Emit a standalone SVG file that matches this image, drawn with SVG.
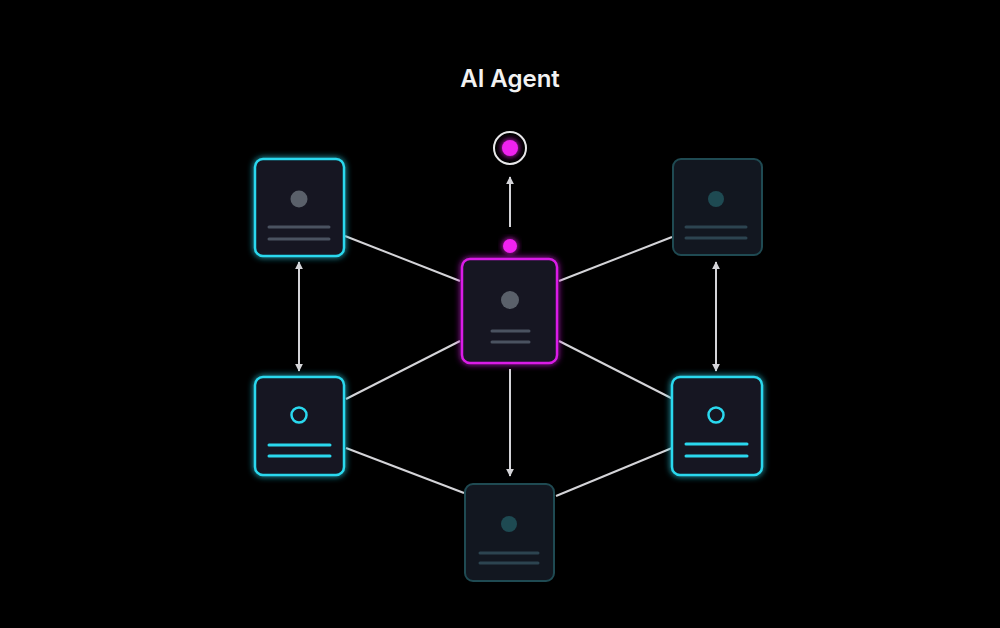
<svg xmlns="http://www.w3.org/2000/svg" width="1000" height="628" viewBox="0 0 1000 628">
<defs>
<style>
.bg{fill:#000}
.title{font-family:"Inter","Liberation Sans",sans-serif;font-size:24px;font-weight:600;fill:#f2f2f2}
.box{fill:#121720;stroke-width:2.5}
.cyan{stroke:#2ad8ee}
.mag{stroke:#d91fe6}
.dim{stroke:#1f4a52;stroke-width:2}
.ln{stroke:#d4d4d8;stroke-width:2;fill:none}
.bar{stroke-width:3;stroke-linecap:round}
.grey{stroke:#4a5260}
.dimbar{stroke:#2c4450}
.cybar{stroke:#2ad8ee}
</style>
<filter id="glow" x="-30%" y="-30%" width="160%" height="160%">
<feGaussianBlur stdDeviation="3" result="b"/>
<feMerge><feMergeNode in="b"/><feMergeNode in="SourceGraphic"/></feMerge>
</filter>
<marker id="ah" viewBox="0 0 10 10" refX="9" refY="5" markerWidth="4" markerHeight="4" orient="auto-start-reverse">
<path d="M0,0 L10,5 L0,10 z" fill="#d4d4d8"/>
</marker>
</defs>
<rect class="bg" width="1000" height="628"/>
<text class="title" x="510" y="87" text-anchor="middle">AI Agent</text>

<g id="connectors">
<line class="ln" x1="345" y1="236" x2="460" y2="281"/>
<line class="ln" x1="672" y1="237" x2="559" y2="281"/>
<line class="ln" x1="460" y1="341" x2="346" y2="399"/>
<line class="ln" x1="559" y1="341" x2="673" y2="399"/>
<line class="ln" x1="346" y1="448" x2="464" y2="493"/>
<line class="ln" x1="672" y1="448" x2="556" y2="496"/>
<line class="ln" x1="299" y1="262" x2="299" y2="371" marker-start="url(#ah)" marker-end="url(#ah)"/>
<line class="ln" x1="716" y1="262" x2="716" y2="371" marker-start="url(#ah)" marker-end="url(#ah)"/>
<line class="ln" x1="510" y1="369" x2="510" y2="476" marker-end="url(#ah)"/>
<line class="ln" x1="510" y1="227" x2="510" y2="177" marker-end="url(#ah)"/>
</g>

<g id="node-top">
<circle cx="510" cy="148" r="16" fill="none" stroke="#e8e8ea" stroke-width="2"/>
<circle cx="510" cy="148" r="8" fill="#f020f0" filter="url(#glow)"/>
</g>

<g id="node-center">
<circle cx="510" cy="246" r="7" fill="#f020f0" filter="url(#glow)"/>
<rect class="box mag" x="462" y="259" width="95" height="104" rx="8" filter="url(#glow)"/>
<circle cx="510" cy="300" r="9" fill="#5a606a"/>
<line class="bar grey" x1="492" y1="331" x2="529" y2="331"/>
<line class="bar grey" x1="492" y1="342" x2="529" y2="342"/>
</g>

<g id="node-tl">
<rect class="box cyan" x="255" y="159" width="89" height="97" rx="8" filter="url(#glow)"/>
<circle cx="299" cy="199" r="8.5" fill="#5a606a"/>
<line class="bar grey" x1="269" y1="227" x2="329" y2="227"/>
<line class="bar grey" x1="269" y1="239" x2="329" y2="239"/>
</g>

<g id="node-tr">
<rect class="box dim" x="673" y="159" width="89" height="96" rx="8"/>
<circle cx="716" cy="199" r="8" fill="#1e4a52"/>
<line class="bar dimbar" x1="686" y1="227" x2="746" y2="227"/>
<line class="bar dimbar" x1="686" y1="238" x2="746" y2="238"/>
</g>

<g id="node-ml">
<rect class="box cyan" x="255" y="377" width="89" height="98" rx="8" filter="url(#glow)"/>
<circle cx="299" cy="415" r="7.5" fill="none" stroke="#2ad8ee" stroke-width="2.5"/>
<line class="bar cybar" x1="269" y1="445" x2="330" y2="445"/>
<line class="bar cybar" x1="269" y1="456" x2="330" y2="456"/>
</g>

<g id="node-mr">
<rect class="box cyan" x="672" y="377" width="90" height="98" rx="8" filter="url(#glow)"/>
<circle cx="716" cy="415" r="7.5" fill="none" stroke="#2ad8ee" stroke-width="2.5"/>
<line class="bar cybar" x1="686" y1="444" x2="747" y2="444"/>
<line class="bar cybar" x1="686" y1="456" x2="747" y2="456"/>
</g>

<g id="node-bottom">
<rect class="box dim" x="465" y="484" width="89" height="97" rx="8"/>
<circle cx="509" cy="524" r="8" fill="#1e4a52"/>
<line class="bar dimbar" x1="480" y1="553" x2="538" y2="553"/>
<line class="bar dimbar" x1="480" y1="563" x2="538" y2="563"/>
</g>
</svg>
